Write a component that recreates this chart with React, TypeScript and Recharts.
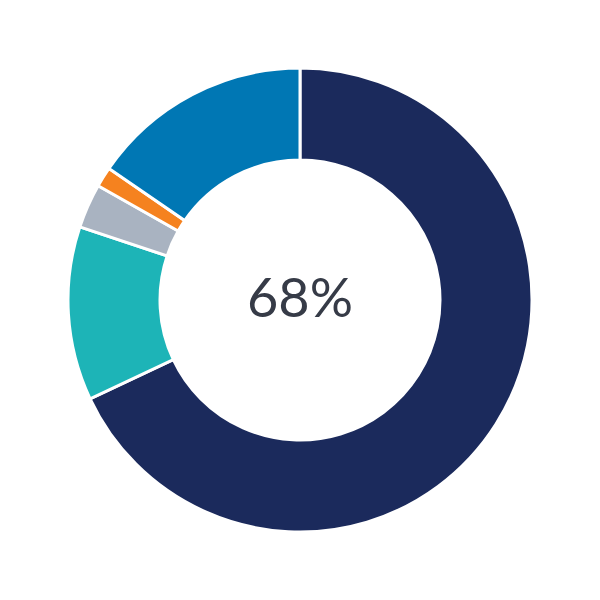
import { PieChart, Pie, Cell } from 'recharts';

// slice shares, clockwise from 12 o'clock
const categories = ['Navy', 'Teal', 'Gray', 'Orange', 'Blue'];
const shares = [68, 12.1, 3.1, 1.4, 15.4];
const centerLabel = '68%';

const COLORS = ['#1b2a5c', '#1db4b7', '#a9b3c1', '#f5821f', '#0077b4'];

const data = categories.map((name, i) => ({ name, value: shares[i] }));

export default function App() {
  return (
    <div style={{ position: 'absolute', left: 0, top: 0, width: 600, height: 600, background: '#fff' }}>
      <PieChart width={600} height={600} margin={{ top: 0, right: 0, bottom: 0, left: 0 }}>
        <Pie
          data={data}
          dataKey="value"
          nameKey="name"
          cx={300}
          cy={300}
          innerRadius={140}
          outerRadius={232}
          startAngle={90}
          endAngle={-270}
          stroke="#fff"
          strokeWidth={3}
          isAnimationActive={false}
        >
          {data.map((d, i) => (
            <Cell key={d.name} fill={COLORS[i]} />
          ))}
        </Pie>
        <text
          x={300}
          y={296}
          textAnchor="middle"
          dominantBaseline="central"
          style={{ fontFamily: 'Lato, sans-serif', fontWeight: 400, fontSize: 54, fill: '#363b47' }}
        >
          {centerLabel}
        </text>
      </PieChart>
    </div>
  );
}
